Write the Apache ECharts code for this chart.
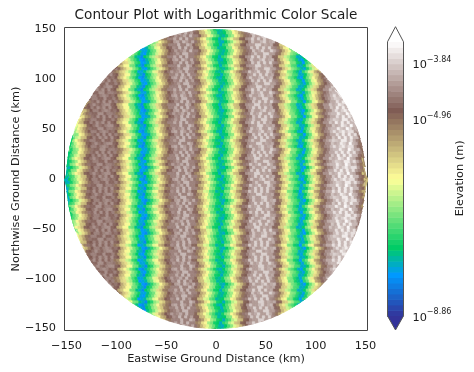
<!DOCTYPE html>
<html>
<head>
<meta charset="utf-8">
<style>
html, body { margin: 0; padding: 0; background: #fff; }
#chart { width: 474px; height: 372px; filter: blur(0.6px); }
</style>
<script src="https://cdn.jsdelivr.net/npm/echarts@6/dist/echarts.min.js"></script>
</head>
<body>
<div id="chart"></div>
<script>
// log10(elevation), read across the disc every 3 km from x = -150 to x = 150.
// Only six strips were read, the rows of the disc reuse them (see stripOrder)
const stripA = [
  -7.9,-7.3,-7.1,-6.5,-6.3,-5.7,-5.5,-4.9,-4.8,-4.5,
  -4.7,-4.3,-4.6,-4.3,-4.7,-4.3,-4.7,-4.8,-5.4,-5.6,
  -6.1,-6.2,-6.8,-7.0,-7.6,-7.8,-8.1,-7.5,-7.3,-6.7,
  -6.5,-5.9,-5.7,-5.1,-5.0,-4.5,-4.5,-4.1,-4.4,-4.0,
  -4.4,-4.0,-4.5,-4.5,-5.1,-5.3,-5.9,-6.1,-6.6,-6.8,
  -7.4,-7.5,-7.8,-7.3,-7.1,-6.5,-6.3,-5.7,-5.5,-4.9,
  -4.8,-4.3,-4.2,-3.8,-4.2,-3.8,-4.2,-3.8,-4.2,-4.1,
  -4.7,-4.9,-5.6,-5.8,-6.4,-6.6,-7.1,-7.2,-7.8,-7.8,
  -7.5,-6.8,-6.5,-5.9,-5.6,-5.0,-4.9,-4.3,-4.3,-3.9,
  -4.1,-3.6,-4.0,-3.6,-4.0,-3.6,-4.0,-4.0,-4.6,-4.9,-5.6
];
const stripB = [
  -7.7,-7.5,-6.9,-6.7,-6.1,-5.9,-5.3,-5.1,-4.6,-4.7,
  -4.3,-4.7,-4.3,-4.7,-4.3,-4.7,-4.5,-5.0,-5.2,-5.8,
  -5.9,-6.4,-6.6,-7.2,-7.4,-8.0,-7.9,-7.7,-7.1,-6.9,
  -6.3,-6.1,-5.5,-5.3,-4.8,-4.7,-4.3,-4.5,-4.0,-4.4,
  -4.0,-4.4,-4.2,-4.7,-4.9,-5.5,-5.7,-6.3,-6.4,-7.0,
  -7.2,-7.7,-7.6,-7.5,-6.9,-6.7,-6.1,-5.9,-5.3,-5.1,
  -4.6,-4.5,-3.9,-4.2,-3.8,-4.2,-3.8,-4.2,-3.8,-4.3,
  -4.5,-5.1,-5.4,-6.0,-6.2,-6.8,-6.9,-7.4,-7.6,-8.0,
  -7.3,-7.0,-6.3,-6.1,-5.4,-5.2,-4.7,-4.5,-4.1,-4.1,
  -3.7,-4.0,-3.6,-4.0,-3.6,-4.0,-3.7,-4.2,-4.4,-5.1,-5.4
];
const stripC = [
  -7.8,-7.4,-7.0,-6.6,-6.2,-5.8,-5.4,-5.0,-4.7,-4.5,
  -4.4,-4.7,-4.7,-4.3,-4.7,-4.7,-4.4,-4.9,-5.3,-5.7,
  -6.0,-6.3,-6.7,-7.1,-7.5,-7.9,-8.0,-7.6,-7.2,-6.8,
  -6.4,-6.0,-5.6,-5.2,-4.9,-4.6,-4.4,-4.2,-4.4,-4.0,
  -4.0,-4.4,-4.5,-4.6,-5.0,-5.4,-5.8,-6.2,-6.5,-6.9,
  -7.3,-7.6,-7.7,-7.4,-7.0,-6.6,-6.2,-5.8,-5.4,-5.0,
  -4.7,-4.4,-4.2,-3.9,-4.2,-4.2,-3.8,-3.8,-4.2,-4.2,
  -4.6,-5.0,-5.5,-5.9,-6.3,-6.7,-7.0,-7.3,-7.7,-7.9,
  -7.4,-6.9,-6.4,-6.0,-5.5,-5.1,-4.8,-4.4,-4.2,-4.0,
  -3.8,-3.9,-4.0,-3.6,-3.6,-4.0,-3.7,-4.1,-4.5,-5.0,-5.5
];
const stripD = [
  -7.9,-7.5,-7.1,-6.5,-6.1,-5.9,-5.5,-4.9,-4.8,-4.6,
  -4.3,-4.6,-4.7,-4.4,-4.3,-4.3,-4.7,-4.8,-5.4,-5.6,
  -6.1,-6.2,-6.8,-7.0,-7.6,-7.8,-8.1,-7.5,-7.3,-6.7,
  -6.5,-5.9,-5.7,-5.1,-5.0,-4.5,-4.5,-4.4,-4.0,-4.4,
  -4.4,-4.0,-4.2,-4.7,-5.1,-5.3,-5.9,-6.1,-6.6,-6.8,
  -7.4,-7.5,-7.8,-7.3,-7.1,-6.5,-6.3,-5.7,-5.5,-4.9,
  -4.8,-4.3,-4.2,-4.2,-3.8,-3.8,-4.2,-4.1,-4.2,-4.1,
  -4.7,-4.9,-5.6,-5.8,-6.4,-6.6,-7.1,-7.2,-7.8,-7.8,
  -7.5,-6.8,-6.5,-5.9,-5.6,-5.0,-4.9,-4.3,-4.3,-3.9,
  -4.1,-4.0,-3.6,-3.8,-4.0,-3.5,-4.0,-4.1,-4.6,-4.9,-5.6
];
const stripE = [
  -7.7,-7.4,-6.9,-6.6,-6.1,-5.8,-5.3,-5.0,-4.6,-4.7,
  -4.7,-4.3,-4.3,-4.7,-4.5,-4.4,-4.6,-5.0,-5.2,-5.7,
  -5.9,-6.3,-6.6,-7.1,-7.4,-7.9,-7.9,-7.6,-7.1,-6.8,
  -6.3,-6.0,-5.5,-5.2,-4.8,-4.6,-4.2,-4.4,-4.3,-4.1,
  -4.4,-4.0,-4.4,-4.5,-4.9,-5.4,-5.7,-6.2,-6.4,-6.9,
  -7.2,-7.6,-7.7,-7.4,-6.9,-6.6,-6.1,-5.8,-5.3,-5.0,
  -4.6,-4.4,-3.9,-4.2,-4.1,-3.8,-4.2,-4.2,-3.8,-4.1,
  -4.5,-5.0,-5.4,-5.9,-6.2,-6.7,-6.9,-7.3,-7.6,-7.9,
  -7.3,-6.9,-6.3,-6.0,-5.4,-5.1,-4.7,-4.4,-4.1,-4.0,
  -4.0,-3.6,-3.9,-4.0,-3.5,-3.8,-4.1,-4.0,-4.4,-5.0,-5.4
];
const stripF = [
  -7.9,-7.5,-7.1,-6.7,-6.3,-5.9,-5.5,-5.1,-4.8,-4.5,
  -4.4,-4.7,-4.5,-4.3,-4.4,-4.7,-4.6,-4.8,-5.4,-5.8,
  -6.1,-6.4,-6.8,-7.2,-7.6,-8.0,-8.1,-7.7,-7.3,-6.9,
  -6.5,-6.1,-5.7,-5.3,-5.0,-4.7,-4.2,-4.1,-4.5,-4.0,
  -4.2,-4.5,-4.1,-4.6,-5.1,-5.5,-5.9,-6.3,-6.6,-7.0,
  -7.4,-7.7,-7.8,-7.5,-7.1,-6.7,-6.3,-5.9,-5.5,-5.1,
  -4.8,-4.3,-3.9,-4.2,-4.2,-4.0,-3.8,-4.2,-4.1,-4.0,
  -4.7,-5.1,-5.6,-6.0,-6.4,-6.8,-7.1,-7.4,-7.8,-8.0,
  -7.5,-7.0,-6.5,-6.1,-5.6,-5.2,-4.9,-4.5,-4.3,-4.0,
  -3.7,-4.0,-3.8,-3.6,-3.9,-3.7,-3.7,-4.2,-4.6,-4.9,-5.6
];
const strips = [stripA, stripB, stripC, stripD, stripE, stripF];

// which strip each 3 km row of the disc uses, and how far it sits sideways (km)
const stripOrder = [
  2,5,0,3,1,4,2,0,5,3,1,2,4,0,3,5,1,4,0,2,
  5,3,4,1,0,2,3,5,1,0,4,2,5,1,3,0,4,5,2,1,
  3,4,0,5,2,3,1,0,4,2,5,0,3,1,5,4,2,3,0,1,
  4,5,3,2,0,1,5,4,3,0,2,1,4,5,0,3,1,2,5,4,
  0,3,2,1,5,0,4,2,3,1,5,0,2,4,1,3,5,0,4,1,2
];
const stripShiftKm = [
  0,1,-1,2,0,-2,1,0,-1,2,-2,0,1,-1,1,2,-1,-2,0,1,
  -1,2,0,-2,1,-1,0,2,-2,1,0,-1,2,1,-2,0,-1,1,2,-1,
  0,-2,1,2,-1,0,-2,1,-1,2,0,1,-2,0,2,-1,1,-2,0,1,
  2,-1,0,-2,1,2,-1,0,1,-2,-1,2,0,1,-1,-2,2,0,-1,1,
  -2,0,2,1,-1,0,-2,2,-1,1,0,-2,1,2,0,-1,1,-2,2,0,-1
];

const cellKm = 3;
const firstKm = -150;
const discRadius = 150;

const axisTicks = [-150, -100, -50, 0, 50, 100, 150];
const cbarTicks = [-3.84, -4.4, -4.96, -5.52, -6.08, -6.64, -7.2, -7.76, -8.32, -8.86];
const cbarLabels = [-3.84, -4.96, -8.86];

// terrain colormap, cut in bands like contourf does
const cbarMin = -8.86;
const cbarMax = -3.42;
const bandCount = 50;
const terrainStops = [
  [0, [51, 51, 153]],
  [0.15, [0, 153, 255]],
  [0.25, [0, 204, 102]],
  [0.5, [255, 255, 153]],
  [0.75, [128, 92, 84]],
  [1, [255, 255, 255]]
];

function terrain (t) {
  for (let i = 1; i < terrainStops.length; i++) {
    const [t1, c1] = terrainStops[i];
    const [t0, c0] = terrainStops[i - 1];
    if (t <= t1) {
      const k = (t - t0) / (t1 - t0);
      const rgb = c0.map((c, j) => Math.round(c + (c1[j] - c) * k));
      return `rgb(${rgb.join(',')})`;
    }
  }
  return '#fff';
}

function colorOf (v) {
  const i = Math.floor((v - cbarMin) / (cbarMax - cbarMin) * bandCount);
  const band = Math.max(0, Math.min(bandCount - 1, i));
  return terrain((band + 0.5) / bandCount);
}

const fieldData = [];
stripOrder.forEach((s, row) => {
  strips[s].forEach((v, col) => {
    fieldData.push([firstKm + col * cellKm + stripShiftKm[row], firstKm + row * cellKm, v]);
  });
});

const bandData = [];
for (let i = 0; i < bandCount; i++) {
  const step = (cbarMax - cbarMin) / bandCount;
  bandData.push([cbarMin + i * step, cbarMin + (i + 1) * step, terrain((i + 0.5) / bandCount)]);
}

// chord half height of the disc at x
const chord = (x) => Math.sqrt(Math.max(0, discRadius * discRadius - x * x));

function renderCell (params, api) {
  const x = api.value(0);
  const y = api.value(1);
  const half = cellKm / 2;
  if (Math.abs(y) - half > chord(Math.max(0, Math.abs(x) - half))) return null;
  const corners = [[x - half, y - half], [x + half, y - half], [x + half, y + half], [x - half, y + half]];
  const points = corners.map(([cx, cy]) => {
    const h = chord(cx);
    return api.coord([cx, Math.max(-h, Math.min(h, cy))]);
  });
  const color = colorOf(api.value(2));
  return { type: 'polygon', shape: { points }, style: { fill: color, stroke: color, lineWidth: 0.7 } };
}

function renderBand (params, api) {
  const p0 = api.coord([0, api.value(0)]);
  const p1 = api.coord([1, api.value(1)]);
  return {
    type: 'rect',
    shape: { x: p0[0], y: p1[1], width: p1[0] - p0[0], height: p0[1] - p1[1] + 0.5 },
    style: { fill: bandData[params.dataIndex][2] }
  };
}

const capTop = -3.12;
const capBottom = -9.14;

function renderCaps (params, api) {
  const top = [[0, cbarMax], [0.5, capTop], [1, cbarMax]].map((p) => api.coord(p));
  const bottom = [[0, cbarMin], [0.5, capBottom], [1, cbarMin]].map((p) => api.coord(p));
  const outline = [[0, cbarMin], [0.5, capBottom], [1, cbarMin], [1, cbarMax], [0.5, capTop], [0, cbarMax]].map((p) => api.coord(p));
  return {
    type: 'group',
    children: [
      { type: 'polygon', shape: { points: top }, style: { fill: '#fff' } },
      { type: 'polygon', shape: { points: bottom }, style: { fill: terrain(0) } },
      { type: 'polygon', shape: { points: outline }, style: { fill: 'none', stroke: '#555', lineWidth: 1 } }
    ]
  };
}

const font = 'DejaVu Sans';
const ink = '#1c1c1c';
const fixMinus = (v) => String(v).replace('-', '\u2212');

const chart = echarts.init(document.getElementById('chart'), null, { renderer: 'canvas' });
chart.setOption({
  animation: false,
  backgroundColor: '#fff',
  textStyle: { fontFamily: font, color: ink },
  title: {
    text: 'Contour Plot with Logarithmic Color Scale',
    left: 211,
    top: 3,
    textAlign: 'center',
    textStyle: { fontFamily: font, fontSize: 13.6, fontWeight: 'normal', color: ink }
  },
  grid: [
    { left: 64.5, top: 27.5, width: 303, height: 303, outerBoundsMode: 'none', show: true, backgroundColor: '#fff', borderColor: '#444', borderWidth: 1 },
    { left: 387.5, top: 26.7, width: 16, height: 303.3, outerBoundsMode: 'none' }
  ],
  xAxis: [
    {
      type: 'value',
      gridIndex: 0,
      min: -152,
      max: 152,
      name: 'Eastwise Ground Distance (km)',
      nameLocation: 'middle',
      nameGap: 23,
      nameMoveOverlap: false,
      nameTextStyle: { fontFamily: font, fontSize: 11.3, color: ink },
      splitLine: { show: false },
      axisLine: { show: false },
      axisTick: { show: true, length: 3.5, customValues: axisTicks, lineStyle: { color: '#444' } },
      axisLabel: { customValues: axisTicks, margin: 10, fontFamily: font, fontSize: 11.3, color: ink, formatter: fixMinus }
    },
    { type: 'value', gridIndex: 1, min: 0, max: 1, show: false }
  ],
  yAxis: [
    {
      type: 'value',
      gridIndex: 0,
      min: -152,
      max: 152,
      name: 'Northwise Ground Distance (km)',
      nameLocation: 'middle',
      nameGap: 43,
      nameMoveOverlap: false,
      nameTextStyle: { fontFamily: font, fontSize: 11.3, color: ink },
      splitLine: { show: false },
      axisLine: { show: false },
      axisTick: { show: true, length: 3.5, customValues: axisTicks, lineStyle: { color: '#444' } },
      axisLabel: { customValues: axisTicks, margin: 8.5, fontFamily: font, fontSize: 11.3, color: ink, formatter: fixMinus }
    },
    {
      type: 'value',
      gridIndex: 1,
      position: 'right',
      min: capBottom,
      max: capTop,
      name: 'Elevation (m)',
      nameLocation: 'middle',
      nameRotate: 90,
      nameGap: 51,
      nameMoveOverlap: false,
      nameTextStyle: { fontFamily: font, fontSize: 11.3, color: ink },
      splitLine: { show: false },
      axisLine: { show: false },
      axisTick: { show: true, length: 3.5, customValues: cbarTicks, lineStyle: { color: '#444' } },
      axisLabel: {
        customValues: cbarLabels,
        margin: 9,
        formatter: (v) => `{b|10}{s|${fixMinus(v.toFixed(2))}}`,
        rich: {
          b: { fontFamily: font, fontSize: 11.3, color: ink, lineHeight: 15, verticalAlign: 'bottom' },
          s: { fontFamily: font, fontSize: 8, color: ink, lineHeight: 15, verticalAlign: 'top' }
        }
      }
    }
  ],
  series: [
    {
      type: 'custom',
      xAxisIndex: 0,
      yAxisIndex: 0,
      silent: true,
      progressive: 0,
      clip: true,
      renderItem: renderCell,
      encode: { x: 0, y: 1 },
      data: fieldData
    },
    {
      type: 'custom',
      xAxisIndex: 1,
      yAxisIndex: 1,
      silent: true,
      renderItem: renderBand,
      encode: { y: [0, 1] },
      data: bandData.map((b) => [b[0], b[1]])
    },
    {
      type: 'custom',
      xAxisIndex: 1,
      yAxisIndex: 1,
      silent: true,
      z: 3,
      renderItem: renderCaps,
      encode: { y: 0 },
      data: [[cbarMin]]
    }
  ]
});
</script>
</body>
</html>
